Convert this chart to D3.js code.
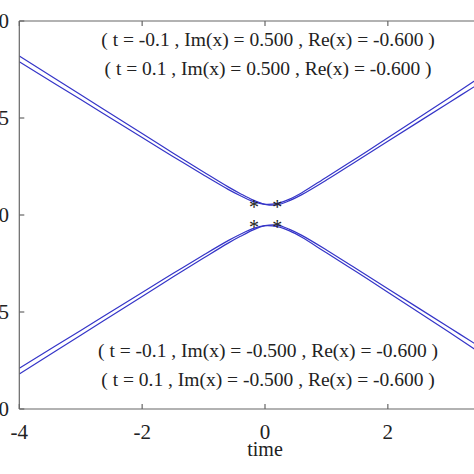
<!DOCTYPE html><html><head><script src="https://cdn.jsdelivr.net/npm/d3@7"></script>
<style>body{margin:0;background:#fff}</style></head><body>
<script>
const xs=[-4,-3,-2,-1.5,-1,-0.6,-0.4,-0.2,0,0.2,0.4,0.6,1,1.5,2,3,3.5];
const upperA=[8.2,6.2,4.2,3.2,2.22,1.45,1.1,0.78,0.55,0.52,0.74,1.05,1.8,2.8,3.8,5.8,6.8];
const upperB=[7.9,5.95,4.0,3.02,2.06,1.32,0.99,0.7,0.55,0.6,0.82,1.15,1.95,2.95,3.98,6.05,7.1];
const lowerA=upperA.map(v=>-v), lowerB=upperB.map(v=>-v);
const stars=[[-0.18,0.5],[0.2,0.5],[-0.18,-0.5],[0.2,-0.5]];
const xTicks=[-4,-2,0,2], yTicks=[10,5,0,-5,-10];
const labels=["( t = -0.1 , Im(x) = 0.500 , Re(x) = -0.600 )","( t = 0.1 , Im(x) = 0.500 , Re(x) = -0.600 )","( t = -0.1 , Im(x) = -0.500 , Re(x) = -0.600 )","( t = 0.1 , Im(x) = -0.500 , Re(x) = -0.600 )"];
const labelY=[8.7,7.2,-7.3,-8.8];
const FF="'Liberation Serif','Times New Roman','DejaVu Serif',serif";
const W=474,H=474;
const x=d3.scaleLinear().domain([-4,0]).range([19.3,265]);
const y=d3.scaleLinear().domain([10,-10]).range([21,409]);
const svg=d3.select("body").append("svg").attr("width",W).attr("height",H).style("font-family",FF);
const line=d3.line().x((d,i)=>x(xs[i])).y(d=>y(d)).curve(d3.curveCatmullRom);
[upperA,upperB,lowerA,lowerB].forEach(s=>svg.append("path").attr("d",line(s)).attr("fill","none").attr("stroke","#3535c8").attr("stroke-width",1.2));
stars.forEach(p=>svg.append("text").attr("x",x(p[0])).attr("y",y(p[1])+9).attr("text-anchor","middle").attr("font-size",20).attr("fill","#222").text("*"));
const g=svg.append("g").attr("stroke","#666").attr("stroke-width",1.2);
g.append("line").attr("x1",x(-4)).attr("x2",W).attr("y1",y(10)).attr("y2",y(10));
g.append("line").attr("x1",x(-4)).attr("x2",W).attr("y1",y(-10)).attr("y2",y(-10));
g.append("line").attr("x1",x(-4)).attr("x2",x(-4)).attr("y1",y(10)).attr("y2",y(-10));
xTicks.forEach(t=>{g.append("line").attr("x1",x(t)).attr("x2",x(t)).attr("y1",y(-10)).attr("y2",y(-10)-5);g.append("line").attr("x1",x(t)).attr("x2",x(t)).attr("y1",y(10)).attr("y2",y(10)+5);
svg.append("text").attr("x",x(t)).attr("y",y(-10)+30).attr("text-anchor","middle").attr("font-size",21).attr("fill","#222").text(t);});
yTicks.forEach(t=>{g.append("line").attr("x1",x(-4)).attr("x2",x(-4)+5).attr("y1",y(t)).attr("y2",y(t));
svg.append("text").attr("x",9).attr("y",y(t)+7).attr("text-anchor","end").attr("font-size",21).attr("fill","#222").text(t);});
svg.append("text").attr("x",x(0)).attr("y",y(-10)+47).attr("text-anchor","middle").attr("font-size",20).attr("fill","#222").text("time");
labels.forEach((l,i)=>svg.append("text").attr("x",x(0.05)).attr("y",y(labelY[i])).attr("text-anchor","middle").attr("font-size",19.5).attr("fill","#222").text(l));
</script></body></html>
